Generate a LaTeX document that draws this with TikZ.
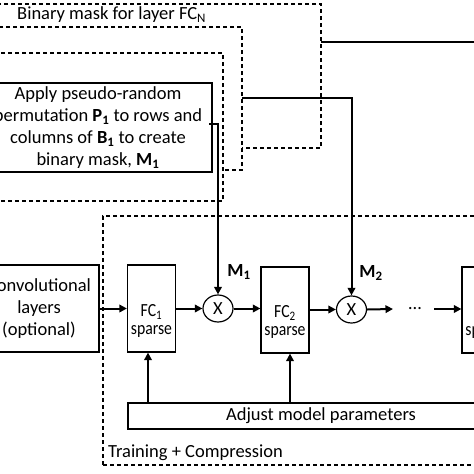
\documentclass[tikz,border=0pt]{standalone}
\usepackage{fontspec}
\setmainfont{Carlito}
\newfontfamily\condfont[FakeStretch=0.85]{Carlito}
\usetikzlibrary{arrows.meta,shapes.geometric}
\tikzset{
  dbox/.style={draw, fill=white, line width=1.1pt, dash pattern=on 4pt off 3pt, inner sep=0pt},
  sbox/.style={draw, fill=white, line width=1.2pt, inner sep=0pt, align=center, font=\fontsize{18.5}{22}\selectfont},
  fcbox/.style={draw, line width=1.2pt, inner sep=0pt, minimum width=48pt},
  fctext/.style={inner sep=0pt, align=center, font=\condfont\fontsize{18.5}{17.5}\selectfont},
  mult/.style={draw, ellipse, line width=1.2pt, inner sep=0pt, minimum width=30pt, minimum height=27pt, font=\fontsize{18.5}{20}\selectfont},
  conn/.style={line width=2pt},
  arr/.style={line width=2pt, -{Triangle[length=7.5pt,width=7.5pt]}},
  lbl/.style={inner sep=0pt, font=\fontsize{18.5}{22}\selectfont},
}
\begin{document}
\begin{tikzpicture}[x=1pt,y=-1pt]
\useasboundingbox (0,0) rectangle (474,474);
\clip (0,0) rectangle (474,474);
% stacked mask boxes
\node[dbox, minimum width=341pt, minimum height=144pt] (b3) at (150.5,76) {};
\node[lbl, anchor=west] (b3l) at (17,15) {Binary mask for layer FC\textsubscript{N}};
\node[dbox, minimum width=262pt, minimum height=143pt] (b2) at (111,98.5) {};
\node[dbox, minimum width=243pt, minimum height=148pt] (b1) at (101.5,127) {};
\node[sbox, minimum width=228pt, minimum height=89pt] (apply) at (98,127.5)
  {Apply pseudo-random\\permutation \textbf{P\textsubscript{1}} to rows and\\columns of \textbf{B\textsubscript{1}} to create\\binary mask, \textbf{M\textsubscript{1}}};
% training box
\node[dbox, fill=none, minimum width=397pt, minimum height=249pt] (train) at (301.5,340.5) {};
\node[lbl, anchor=west] (trainl) at (108,453) {Training + Compression};
% conv
\node[sbox, minimum width=120pt, minimum height=87pt] (conv) at (39,308.5) {Convolutional\\layers\\(optional)};
% FC boxes
\node[fcbox, minimum height=87pt] (fc1) at (151.5,308.5) {};
\node[fctext] (fc1t) at (151.5,321) {FC\textsubscript{1}\\sparse};
\node[fcbox, minimum height=86pt] (fc2) at (285,310) {};
\node[fctext] (fc2t) at (285,322) {FC\textsubscript{2}\\sparse};
\node[fcbox, minimum height=86pt] (fcn) at (486,310) {};
\node[fctext] (fcnt) at (486,322) {FC\textsubscript{N}\\sparse};
\node[mult] (c1) at (218,308.5) {X};
\node[mult] (c2) at (351.5,309.5) {X};
\node[lbl, font=\fontsize{18.5}{22}\selectfont\bfseries] (m1) at (239,272) {M\textsubscript{1}};
\node[lbl, font=\fontsize{18.5}{22}\selectfont\bfseries] (m2) at (371,273) {M\textsubscript{2}};
\node[lbl, anchor=base] (dots) at (415,309) {…};
\node[sbox, minimum width=386pt, minimum height=26pt] (adj) at (321,416) {Adjust model parameters};
% coordinates
\coordinate (p1) at (209,124);
\coordinate (p2) at (242,98);
\coordinate (p3) at (321,42);
\coordinate (q3) at (474,42);
\coordinate (e2) at (393,309);
\coordinate (sN) at (434,309);
\coordinate (x1) at (148,0);
\coordinate (x2) at (290,0);
\coordinate (x3) at (482,0);
% connectors
\draw[conn] (p3) -- (q3);
\draw[arr] (p1) -| (c1.north);
\draw[arr] (p2) -| (c2.north);
\draw[arr] (conv.east) -- (fc1.west |- conv.east);
\draw[arr] (fc1.east |- c1.west) -- (c1.west);
\draw[arr] (c1.east) -- (fc2.west |- c1.east);
\draw[arr] (fc2.east |- c2.west) -- (c2.west);
\draw[arr] (c2.east) -- (e2);
\draw[arr] (sN) -- (fcn.west |- sN);
\draw[arr] (adj.north -| x1) -- (fc1.south -| x1);
\draw[arr] (adj.north -| x2) -- (fc2.south -| x2);
\draw[arr] (adj.north -| x3) -- (fcn.south -| x3);
\end{tikzpicture}
\end{document}
